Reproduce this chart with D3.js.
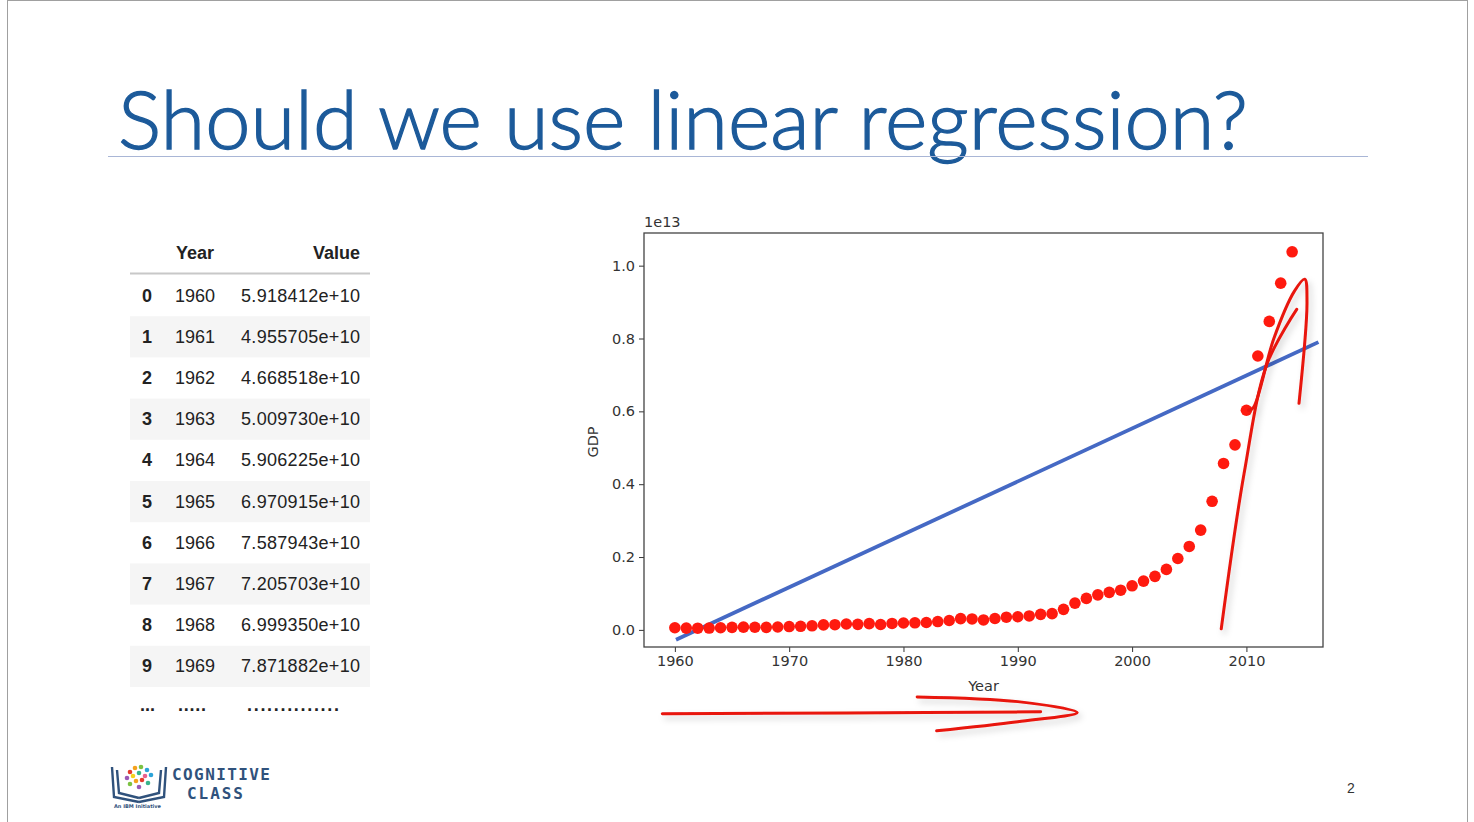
<!DOCTYPE html>
<html>
<head>
<meta charset="utf-8">
<script src="https://cdn.jsdelivr.net/npm/d3@7"></script>
<style>
  body { margin: 0; background: #fff; }
  svg { display: block; }
</style>
</head>
<body>
<svg id="slide" width="1474" height="822"></svg>
<script>

// GDP series (years + values)
const years = d3.range(1960, 2015);
const gdp = [
  5.918412e10, 4.955705e10, 4.668518e10, 5.009730e10, 5.906225e10,
  6.970915e10, 7.587943e10, 7.205703e10, 6.999350e10, 7.871882e10,
  9.2e10, 9.9e10, 1.12e11, 1.37e11, 1.42e11,
  1.61e11, 1.52e11, 1.72e11, 1.48e11, 1.77e11,
  1.89e11, 1.94e11, 2.03e11, 2.29e11, 2.57e11,
  3.10e11, 3.00e11, 2.73e11, 3.12e11, 3.48e11,
  3.61e11, 3.83e11, 4.27e11, 4.45e11, 5.64e11,
  7.35e11, 8.64e11, 9.62e11, 1.03e12, 1.09e12,
  1.21e12, 1.34e12, 1.47e12, 1.66e12, 1.96e12,
  2.29e12, 2.74e12, 3.53e12, 4.57e12, 5.08e12,
  6.03e12, 7.52e12, 8.47e12, 9.52e12, 1.038e13
];

// fitted straight line (endpoints)
const fitYears = [1960.1, 2016.3];
const fitValues = [-0.027e13, 0.79e13];

// tick labels
const xTicks = [1960, 1970, 1980, 1990, 2000, 2010];
const yTicks = [0, 0.2e13, 0.4e13, 0.6e13, 0.8e13, 1.0e13];

// dataframe preview
const tableIndex = ["0", "1", "2", "3", "4", "5", "6", "7", "8", "9"];
const tableYears = ["1960", "1961", "1962", "1963", "1964", "1965", "1966", "1967", "1968", "1969"];
const tableValues = ["5.918412e+10", "4.955705e+10", "4.668518e+10", "5.009730e+10", "5.906225e+10",
  "6.970915e+10", "7.587943e+10", "7.205703e+10", "6.999350e+10", "7.871882e+10"];

// pen annotations, in [year, value] space
const penUp = [[2007.8, 0.003e13], [2009.8, 0.43e13], [2011.8, 0.73e13], [2014.4, 0.88e13]];
const penHook = [[2010.2, 0.603e13], [2010.6, 0.61e13], [2012.4, 0.80e13], [2014.2, 0.93e13],
  [2015.1, 0.963e13], [2015.3, 0.90e13], [2014.6, 0.622e13]];
const penShaft = [[1958.9, -0.230e13], [1975, -0.228e13], [1992.0, -0.225e13]];
const penHead = [[1981.2, -0.184e13], [1990, -0.197e13], [1995.2, -0.227e13], [1990, -0.252e13], [1982.9, -0.277e13]];

const svg = d3.select("#slide");

// slide frame
svg.append("rect")
  .attr("x", 7.5).attr("y", 0.5)
  .attr("width", 1460).attr("height", 830)
  .attr("fill", "#fff")
  .attr("stroke", "#a0a0a0");

svg.append("defs")
  .append("filter")
    .attr("id", "pen-shadow")
    .attr("x", "-20%").attr("y", "-20%").attr("width", "140%").attr("height", "140%")
  .append("feDropShadow")
    .attr("dx", 3).attr("dy", 4)
    .attr("stdDeviation", 3)
    .attr("flood-color", "#000")
    .attr("flood-opacity", 0.18);

// title
const title = svg.append("text")
  .attr("x", 118)
  .attr("y", 149)
  .attr("fill", "#1c5a9a")
  .attr("stroke", "#1c5a9a")
  .attr("stroke-width", 1.3)
  .style("font-family", "Lato, 'Open Sans', sans-serif")
  .style("font-weight", 300)
  .style("font-size", "80px")
  .text("Should we use linear regression?");
const titleW = title.node().getComputedTextLength();
title.style("font-size", `${80 * 1130 / titleW}px`);

svg.append("line")
  .attr("x1", 108).attr("x2", 1368)
  .attr("y1", 156.5).attr("y2", 156.5)
  .attr("stroke", "#a9b6d6")
  .attr("stroke-width", 1.2);

// ---- table ----
const table = svg.append("g")
  .style("font-family", "'Liberation Sans', Arial, sans-serif")
  .style("font-size", "18px")
  .attr("fill", "#222");

const rowY = d3.scaleBand()
  .domain(tableIndex)
  .range([275, 687]);

table.selectAll(".stripe")
  .data(tableIndex.filter((d, i) => i % 2 === 1))
  .join("rect")
    .attr("class", "stripe")
    .attr("x", 130)
    .attr("y", d => rowY(d))
    .attr("width", 240)
    .attr("height", rowY.bandwidth())
    .attr("fill", "#f5f5f5");

table.append("line")
  .attr("x1", 130).attr("x2", 370)
  .attr("y1", 273.5).attr("y2", 273.5)
  .attr("stroke", "#c8c8c8")
  .attr("stroke-width", 2);

table.append("text")
  .attr("x", 214).attr("y", 259)
  .attr("text-anchor", "end")
  .style("font-weight", 700)
  .text("Year");
table.append("text")
  .attr("x", 360).attr("y", 259)
  .attr("text-anchor", "end")
  .style("font-weight", 700)
  .text("Value");

const rows = table.selectAll(".row")
  .data(tableIndex)
  .join("g")
    .attr("class", "row")
    .attr("transform", d => `translate(0, ${rowY(d) + rowY.bandwidth() / 2 + 6})`);

rows.append("text")
  .attr("x", 147)
  .attr("text-anchor", "middle")
  .style("font-weight", 700)
  .text(d => d);
rows.append("text")
  .attr("x", 215)
  .attr("text-anchor", "end")
  .text((d, i) => tableYears[i]);
rows.append("text")
  .attr("x", 360)
  .attr("text-anchor", "end")
  .attr("textLength", 119)
  .text((d, i) => tableValues[i]);

const dots = table.append("g")
  .attr("transform", "translate(0, 711)")
  .style("font-weight", 700);
dots.append("text").attr("x", 140).attr("textLength", 15).text("...");
dots.append("text").attr("x", 178).attr("textLength", 28).text(".....");
dots.append("text").attr("x", 247).attr("textLength", 92).text("..............");

// ---- chart ----
const frame = { left: 644, right: 1323, top: 233, bottom: 647 };

const padded = ([lo, hi]) => [lo - 0.05 * (hi - lo), hi + 0.05 * (hi - lo)];

const xScale = d3.scaleLinear()
  .domain(padded(d3.extent(years)))
  .range([frame.left, frame.right]);
const yScale = d3.scaleLinear()
  .domain(padded(d3.extent(gdp)))
  .range([frame.bottom, frame.top]);

const chart = svg.append("g")
  .style("font-family", "'DejaVu Sans', sans-serif")
  .style("font-size", "14.5px")
  .attr("fill", "#333");

const xAxis = chart.append("g")
  .attr("transform", `translate(0, ${frame.bottom})`)
  .call(d3.axisBottom(xScale).tickValues(xTicks).tickFormat(d3.format("d")).tickSize(5).tickPadding(4));
const yAxis = chart.append("g")
  .attr("transform", `translate(${frame.left}, 0)`)
  .call(d3.axisLeft(yScale).tickValues(yTicks).tickFormat(d => (d / 1e13).toFixed(1)).tickSize(5).tickPadding(4));

[xAxis, yAxis].forEach(a => {
  a.select(".domain").remove();
  a.selectAll("line").attr("stroke", "#333");
  a.selectAll("text")
    .attr("fill", "#333")
    .style("font-family", "'DejaVu Sans', sans-serif")
    .style("font-size", "14.5px");
});

chart.append("line")
  .attr("x1", xScale(fitYears[0])).attr("x2", xScale(fitYears[1]))
  .attr("y1", yScale(fitValues[0])).attr("y2", yScale(fitValues[1]))
  .attr("stroke", "#4569c4")
  .attr("stroke-width", 3.8);

chart.selectAll(".pt")
  .data(years)
  .join("circle")
    .attr("class", "pt")
    .attr("cx", d => xScale(d))
    .attr("cy", (d, i) => yScale(gdp[i]))
    .attr("r", 5.8)
    .attr("fill", "#ff1a0f");

chart.append("rect")
  .attr("x", frame.left).attr("y", frame.top)
  .attr("width", frame.right - frame.left)
  .attr("height", frame.bottom - frame.top)
  .attr("fill", "none")
  .attr("stroke", "#444")
  .attr("stroke-width", 1.3);

chart.append("text")
  .attr("x", frame.left).attr("y", frame.top - 6)
  .text("1e13");

chart.append("text")
  .attr("x", (frame.left + frame.right) / 2)
  .attr("y", 691)
  .attr("text-anchor", "middle")
  .text("Year");

chart.append("text")
  .attr("transform", `translate(598, ${(frame.top + frame.bottom) / 2 + 2}) rotate(-90)`)
  .attr("text-anchor", "middle")
  .text("GDP");

// ---- pen strokes ----
const pen = d3.line()
  .x(d => xScale(d[0]))
  .y(d => yScale(d[1]))
  .curve(d3.curveCatmullRom);

svg.append("g")
  .attr("filter", "url(#pen-shadow)")
  .selectAll("path")
  .data([penUp, penHook, penShaft, penHead])
  .join("path")
    .attr("d", pen)
    .attr("fill", "none")
    .attr("stroke", "#e8140c")
    .attr("stroke-width", 3)
    .attr("stroke-linecap", "round")
    .attr("stroke-linejoin", "round");

// ---- logo ----
const logo = svg.append("g");
logo.append("path")
  .attr("d", "M112,767 L114,797 L139,802 M117,770 L119,793 L139,798 M166,767 L164,797 L139,802 M161,770 L159,793 L139,798")
  .attr("fill", "none")
  .attr("stroke", "#30527c")
  .attr("stroke-width", 2.4);
const leafColors = ["#e53b2c", "#f4a21d", "#7cc242", "#2ba3d8", "#9b59b6", "#f4d21d", "#38b48b", "#e8618c",
  "#2ba3d8", "#7cc242", "#f4a21d", "#e53b2c", "#38b48b", "#9b59b6"];
const leafPos = [[130, 772], [135, 768], [141, 767], [147, 770], [127, 778], [133, 776], [139, 773],
  [145, 776], [151, 775], [130, 784], [136, 781], [142, 780], [148, 783], [139, 787]];
logo.selectAll(".leaf")
  .data(leafPos)
  .join("circle")
    .attr("class", "leaf")
    .attr("cx", d => d[0]).attr("cy", d => d[1])
    .attr("r", 2.3)
    .attr("fill", (d, i) => leafColors[i]);
logo.append("text")
  .attr("x", 114).attr("y", 808)
  .attr("fill", "#30527c")
  .style("font-family", "'DejaVu Sans', sans-serif")
  .style("font-size", "5px")
  .style("font-weight", 700)
  .text("An IBM Initiative");
logo.append("text")
  .attr("x", 172).attr("y", 780)
  .attr("fill", "#30527c")
  .style("font-family", "'DejaVu Sans Mono', monospace")
  .style("font-size", "16px")
  .style("font-weight", 700)
  .attr("textLength", 98)
  .text("COGNITIVE");
logo.append("text")
  .attr("x", 187).attr("y", 799)
  .attr("fill", "#30527c")
  .style("font-family", "'DejaVu Sans Mono', monospace")
  .style("font-size", "16px")
  .style("font-weight", 700)
  .attr("textLength", 56)
  .text("CLASS");

// page number
svg.append("text")
  .attr("x", 1351).attr("y", 793)
  .attr("text-anchor", "middle")
  .attr("fill", "#333")
  .style("font-family", "'Liberation Sans', Arial, sans-serif")
  .style("font-size", "14px")
  .text("2");

</script>
</body>
</html>
